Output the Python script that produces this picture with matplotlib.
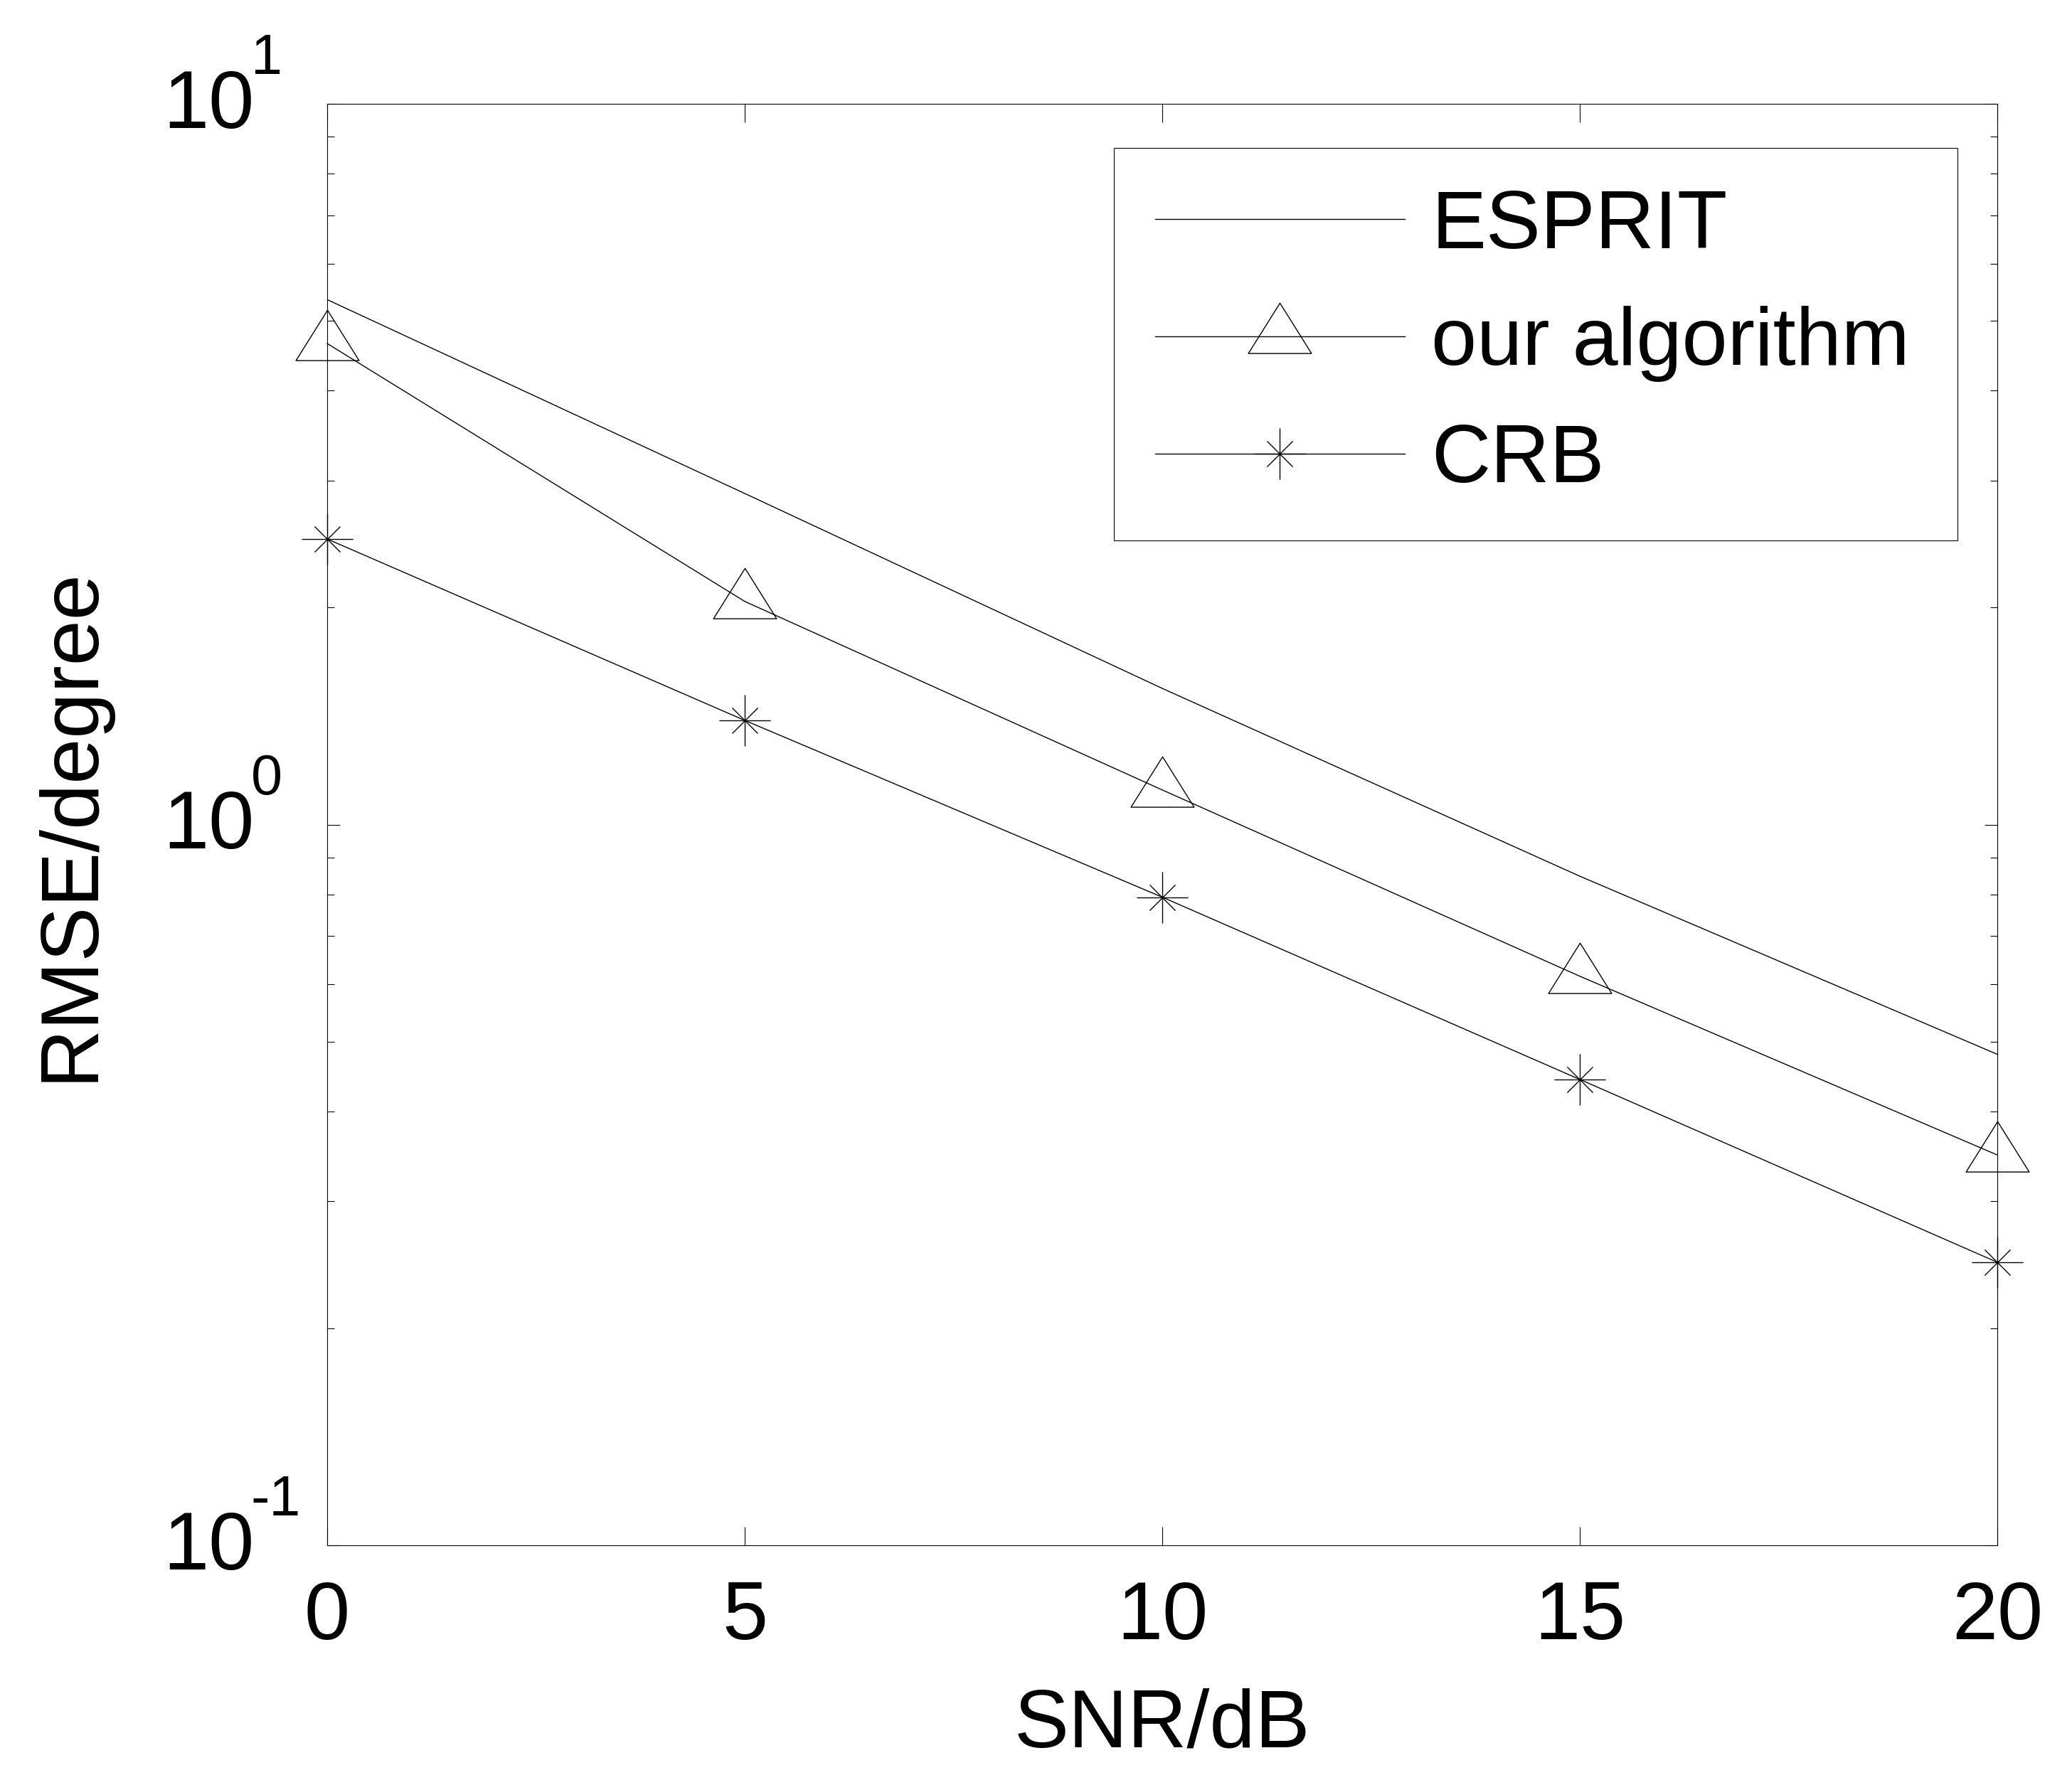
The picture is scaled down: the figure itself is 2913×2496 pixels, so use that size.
import numpy as np
import matplotlib
matplotlib.use("Agg")
import matplotlib.pyplot as plt
from matplotlib.path import Path
from matplotlib.ticker import LogLocator, NullFormatter
from matplotlib.transforms import offset_copy, blended_transform_factory

# ---- data ----
snr = [0, 5, 10, 15, 20]
esprit = [5.35, 2.88, 1.545, 0.848, 0.480]
ours = [4.65, 2.04, 1.117, 0.616, 0.348]
crb = [2.49, 1.395, 0.793, 0.443, 0.247]
series_names = ["ESPRIT", "our algorithm", "CRB"]
xticks = [0, 5, 10, 15, 20]
ydecades = [0.1, 1, 10]
yexps = ["-1", "0", "1"]

plt.rcParams["font.family"] = ["Liberation Sans", "DejaVu Sans"]

W, H, DPI = 2913, 2496, 100
FS = 83      # main font size (pt)
FS_SUP = 57  # exponent size

fig = plt.figure(figsize=(W / DPI, H / DPI), dpi=DPI)
ax = fig.add_axes([460 / W, 1 - 2173 / H, (2808 - 460) / W, (2173 - 146) / H])

# MATLAB-like markers: triangle centred on its centroid, 8-arm asterisk
tri = Path([(0, 0.667), (-0.627, -0.333), (0.627, -0.333), (0, 0.667)], closed=True)
star = Path([(0, -1), (0, 1), (-1, 0), (1, 0),
             (-0.5, -0.5), (0.5, 0.5), (-0.5, 0.5), (0.5, -0.5)],
            [Path.MOVETO, Path.LINETO] * 4)

lw = 1.0
ax.plot(snr, esprit, color="k", lw=lw, label=series_names[0])
ax.plot(snr, ours, color="k", lw=lw, marker=tri, ms=68, mfc="none", mec="k",
        mew=lw, clip_on=False, label=series_names[1])
ax.plot(snr, crb, color="k", lw=lw, marker=star, ms=52, mfc="none", mec="k",
        mew=lw, clip_on=False, label=series_names[2])

ax.set_yscale("log")
ax.set_xlim(0, 20)
ax.set_ylim(0.1, 10)
ax.set_xticks(xticks)
ax.set_xticklabels([str(v) for v in xticks])
ax.set_yticks(ydecades)
ax.set_yticklabels([])
ax.yaxis.set_minor_locator(LogLocator(base=10, subs=np.arange(2, 10)))
ax.yaxis.set_minor_formatter(NullFormatter())
ax.tick_params(axis="both", which="both", direction="in", top=True, right=True,
               color="k", width=0.8)
ax.tick_params(axis="x", which="major", length=19, pad=35, labelsize=FS)
ax.tick_params(axis="x", which="minor", bottom=False, top=False)
ax.tick_params(axis="y", which="major", length=13)
ax.tick_params(axis="y", which="minor", length=7.2)
for s in ax.spines.values():
    s.set_linewidth(0.8)

# y tick labels as 10 with raised exponent
ty = blended_transform_factory(ax.transAxes, ax.transData)
for v, e in zip(ydecades, yexps):
    ax.text(0, v, "10", transform=offset_copy(ty, fig, x=-103, y=-34, units="dots"),
            ha="right", va="baseline", fontsize=FS, clip_on=False)
    ax.text(0, v, e, transform=offset_copy(ty, fig, x=-107, y=42, units="dots"),
            ha="left", va="baseline", fontsize=FS_SUP, clip_on=False)

ax.set_xlabel("SNR/dB", fontsize=FS, labelpad=32)
ax.set_ylabel("RMSE/degree", fontsize=FS, va="baseline")
ax.yaxis.set_label_coords((130 - 460) / 2348, 0.5)

leg = ax.legend(loc="upper left", bbox_to_anchor=(0.471, 0.0, 0.505, 0.9694),
                mode="expand", fontsize=FS, frameon=True, fancybox=False,
                edgecolor="k", framealpha=1, borderpad=0.5, borderaxespad=0,
                handlelength=3.05, handletextpad=0.32, labelspacing=0.5,
                numpoints=1)
leg.get_frame().set_linewidth(0.8)

fig.savefig("out.png", dpi=DPI)
